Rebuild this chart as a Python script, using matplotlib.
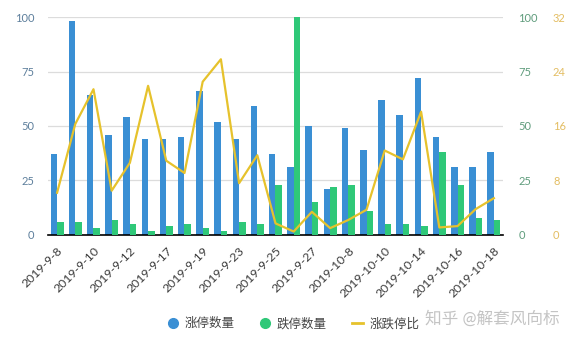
import matplotlib.pyplot as plt
import numpy as np
from matplotlib.lines import Line2D

plt.rcParams['font.family'] = ['Lato', 'Noto Sans CJK SC', 'DejaVu Sans']

dates = ['2019-9-8', '2019-9-9', '2019-9-10', '2019-9-11', '2019-9-12', '2019-9-16',
         '2019-9-17', '2019-9-18', '2019-9-19', '2019-9-20', '2019-9-23', '2019-9-24',
         '2019-9-25', '2019-9-26', '2019-9-27', '2019-9-30', '2019-10-8', '2019-10-9',
         '2019-10-10', '2019-10-11', '2019-10-14', '2019-10-15', '2019-10-16',
         '2019-10-17', '2019-10-18']
up_limit = [37, 98, 64, 46, 54, 44, 44, 45, 66, 52, 44, 59, 37, 31, 50, 21, 49, 39,
            62, 55, 72, 45, 31, 31, 38]
down_limit = [6, 6, 3, 7, 5, 2, 4, 5, 3, 2, 6, 5, 23, 100, 15, 22, 23, 11,
              5, 5, 4, 38, 23, 8, 7]
ratio = [6.2, 16.3, 21.4, 6.5, 10.6, 21.9, 10.9, 9.1, 22.5, 25.8, 7.6, 11.7, 1.7, 0.5,
         3.4, 1.0, 2.2, 3.7, 12.4, 11.1, 18.1, 1.1, 1.3, 3.8, 5.4]

BLUE = '#3a8fd4'
GREEN = '#2fc878'
YELLOW = '#e6c22c'

fig = plt.figure(figsize=(5.83, 3.41), dpi=100)
ax = fig.add_axes([0.0823, 0.311, 0.7805, 0.639])
x = np.arange(len(dates))
w = 0.36

# left axis: blue bars
ax.bar(x - w / 2, up_limit, width=w, color=BLUE, zorder=2)
ax.set_ylim(0, 100)
ax.set_xlim(-0.5, len(dates) - 0.5)
ax.set_yticks([0, 25, 50, 75, 100])
ax.grid(axis='y', color='#dcdcdc', linewidth=0.9, zorder=0)
for s in ['top', 'right', 'left']:
    ax.spines[s].set_visible(False)
ax.spines['bottom'].set_color('black')
ax.spines['bottom'].set_linewidth(1.2)
ax.spines['bottom'].set_zorder(5)
ax.tick_params(axis='y', length=0, pad=10, labelsize=8, labelcolor='#5d7f9c')
ax.set_xticks(x[::2])
ax.set_xticklabels(dates[::2], rotation=45, ha='right', rotation_mode='anchor',
                   fontsize=8.8, color='#3a3a3a')
ax.tick_params(axis='x', length=0, pad=7)

# right axis: green bars
ax2 = ax.twinx()
ax2.bar(x + w / 2, down_limit, width=w, color=GREEN, zorder=2)
ax2.set_ylim(0, 100)
ax2.set_yticks([0, 25, 50, 75, 100])
ax2.tick_params(axis='y', length=0, pad=11, labelsize=8, labelcolor='#5f9c7c')
for s in ax2.spines.values():
    s.set_visible(False)

# second right axis: ratio line
ax3 = ax.twinx()
ax3.plot(x, ratio, color=YELLOW, linewidth=1.6, zorder=3)
ax3.set_ylim(0, 32)
ax3.set_yticks([0, 8, 16, 24, 32])
ax3.tick_params(axis='y', length=0, pad=36, labelsize=8, labelcolor='#e3bd62')
for s in ax3.spines.values():
    s.set_visible(False)

handles = [Line2D([], [], marker='o', linestyle='none', color=BLUE, markersize=7),
           Line2D([], [], marker='o', linestyle='none', color=GREEN, markersize=7),
           Line2D([], [], color=YELLOW, linewidth=2)]
fig.legend(handles, ['涨停数量', '跌停数量', '涨跌停比'], loc='center',
           bbox_to_anchor=(0.503, 0.053), ncol=3, frameon=False, fontsize=9,
           handlelength=0.9, handletextpad=0.5, columnspacing=2.0,
           labelcolor='#444444')

fig.text(0.729, 0.067, '知乎 @解套风向标', fontsize=12, color='#c4c4c4',
         va='center', ha='left')

fig.savefig('out.png', dpi=100)
